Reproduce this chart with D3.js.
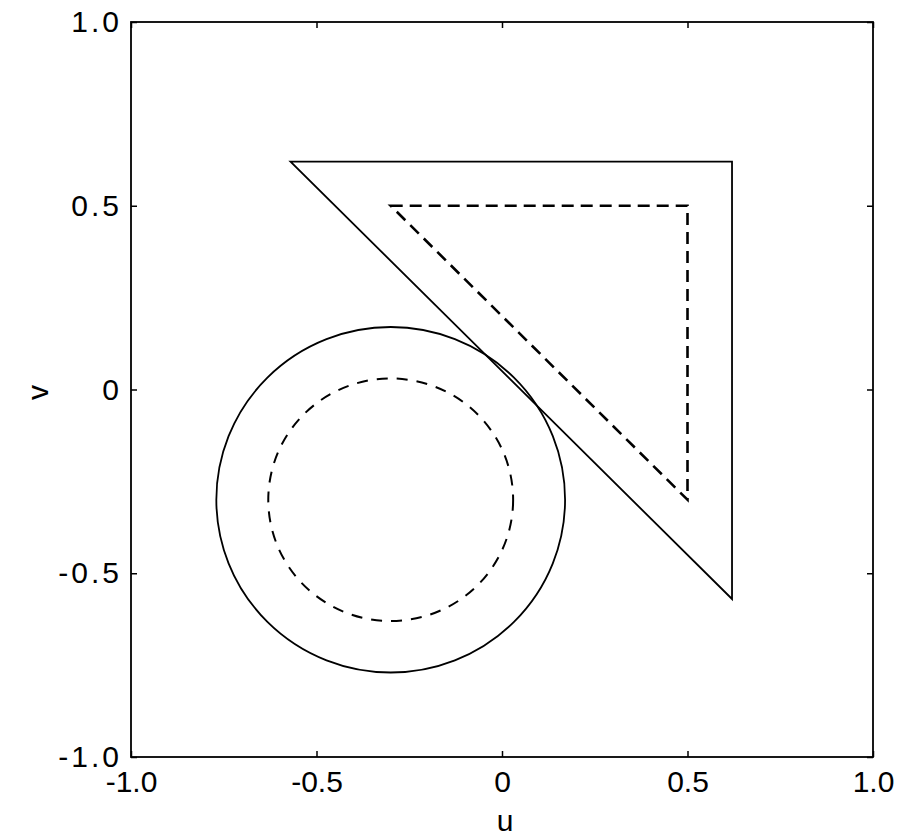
<!DOCTYPE html>
<html>
<head>
<meta charset="utf-8">
<script src="https://cdn.jsdelivr.net/npm/d3@7"></script>
<style>
  body { margin: 0; background: #fff; }
  svg text { font-family: "Liberation Sans", Arial, sans-serif; fill: #000; }
</style>
</head>
<body>
<svg width="906" height="839"></svg>
<script>
// axis ticks
const tickValues = [-1, -0.5, 0, 0.5, 1];
const tickLabels = ['-1.0', '-0.5', '0', '0.5', '1.0'];

// outer (solid) and inner (dashed) triangles, [u, v]
const outerTriangle = [[-0.57, 0.62], [0.62, 0.62], [0.62, -0.57]];
const innerTriangle = [[-0.3, 0.5], [0.5, 0.5], [0.5, -0.3]];

// circles: centre and radius
const circleCenter = [-0.3, -0.3];
const outerRadius = 0.47;
const innerRadius = 0.33;

const svg = d3.select('svg');

// plot box in pixels
const boxLeft = 131, boxRight = 873, boxTop = 22, boxBottom = 757;

const x = d3.scaleLinear().domain([-1, 1]).range([boxLeft, boxRight]);
const y = d3.scaleLinear().domain([-1, 1]).range([boxBottom, boxTop]);

const fmt = d => tickLabels[tickValues.indexOf(d)];

// frame
svg.append('rect')
  .attr('x', boxLeft).attr('y', boxTop)
  .attr('width', boxRight - boxLeft).attr('height', boxBottom - boxTop)
  .attr('fill', 'none').attr('stroke', '#000').attr('stroke-width', 1.8);

// bottom + left axes, ticks point inside
const gx = svg.append('g')
  .attr('transform', `translate(0,${boxBottom})`)
  .call(d3.axisBottom(x).tickValues(tickValues).tickFormat(fmt)
    .tickSizeInner(-6).tickSizeOuter(0).tickPadding(14));

const gy = svg.append('g')
  .attr('transform', `translate(${boxLeft},0)`)
  .call(d3.axisLeft(y).tickValues(tickValues).tickFormat(fmt)
    .tickSizeInner(-6).tickSizeOuter(0).tickPadding(9));

// top and right: ticks only
const gt = svg.append('g')
  .attr('transform', `translate(0,${boxTop})`)
  .call(d3.axisTop(x).tickValues(tickValues).tickFormat('')
    .tickSizeInner(-6).tickSizeOuter(0));
const gr = svg.append('g')
  .attr('transform', `translate(${boxRight},0)`)
  .call(d3.axisRight(y).tickValues(tickValues).tickFormat('')
    .tickSizeInner(-6).tickSizeOuter(0));

[gx, gy, gt, gr].forEach(g => {
  g.select('.domain').remove();
  g.selectAll('line').attr('stroke', '#000').attr('stroke-width', 1.5);
});

gx.selectAll('text')
  .style('font-size', '30px');
gy.selectAll('text')
  .style('font-size', '30px')
  .style('letter-spacing', '3px');

// axis titles
svg.append('text')
  .attr('x', (boxLeft + boxRight) / 2 + 3).attr('y', 831)
  .attr('text-anchor', 'middle')
  .style('font-size', '30px')
  .text('u');

svg.append('text')
  .attr('transform', `translate(48,${(boxTop + boxBottom) / 2 + 3}) rotate(-90)`)
  .attr('text-anchor', 'middle')
  .style('font-size', '30px')
  .text('v');

// shapes
const line = d3.line().x(d => x(d[0])).y(d => y(d[1]));

svg.append('path')
  .attr('d', line(outerTriangle) + 'Z')
  .attr('fill', 'none').attr('stroke', '#000').attr('stroke-width', 1.8);

svg.append('path')
  .attr('d', line(innerTriangle) + 'Z')
  .attr('fill', 'none').attr('stroke', '#000').attr('stroke-width', 2.6)
  .attr('stroke-dasharray', '12,7');

svg.append('ellipse')
  .attr('cx', x(circleCenter[0])).attr('cy', y(circleCenter[1]))
  .attr('rx', x(outerRadius) - x(0)).attr('ry', y(0) - y(outerRadius))
  .attr('fill', 'none').attr('stroke', '#000').attr('stroke-width', 1.8);

svg.append('ellipse')
  .attr('cx', x(circleCenter[0])).attr('cy', y(circleCenter[1]))
  .attr('rx', x(innerRadius) - x(0)).attr('ry', y(0) - y(innerRadius))
  .attr('fill', 'none').attr('stroke', '#000').attr('stroke-width', 2)
  .attr('stroke-dasharray', '11,9');
</script>
</body>
</html>
